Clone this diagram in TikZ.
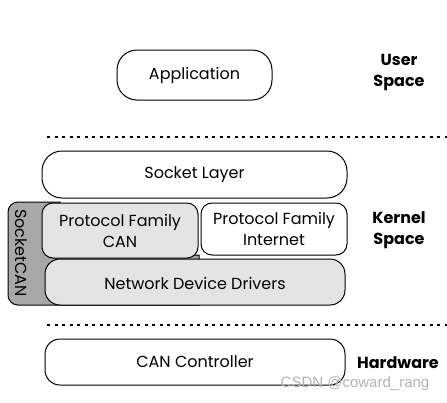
\documentclass[tikz,border=0pt]{standalone}
\usepackage{fontspec}
\setmainfont{Poppins}
\newfontfamily\wmfont{Liberation Sans}
\begin{document}
\begin{tikzpicture}[x=1pt,y=-1pt,
  box/.style={draw=black, line width=1pt, rounded corners=#1},
  lbl/.style={font=\fontsize{16}{21}\selectfont, align=center, inner sep=0pt},
  side/.style={font=\fontsize{16}{21}\selectfont\bfseries, align=center, inner sep=0pt},
  sep/.style={dash pattern=on 3pt off 4.5pt, line width=1.2pt}
]
\useasboundingbox (0,0) rectangle (447,402);
\definecolor{darkg}{HTML}{A8A8A8}
\definecolor{lightg}{HTML}{E4E4E4}
% user space
\draw[box=20pt, fill=white] (117,50) rectangle (272,100);
\node[lbl] (app) at (194.5,75) {Application};
\node[side] (us) at (399,73) {User\\Space};
\coordinate (d1a) at (47,137);
\coordinate (d1b) at (447,137);
\draw[sep] (d1a) -- (d1b);
% kernel
\draw[box=20pt, fill=white] (42,151) rectangle (347,198);
\node[lbl] (sock) at (194.5,175) {Socket Layer};
\draw[draw=black, line width=1pt, fill=darkg]
  (60,202) -- (18,202) to[out=180,in=90] (8,212) -- (8,295) to[out=-90,in=180] (18,305)
  -- (199,305) -- (199,255) -- (60,255) -- cycle;
\node[rotate=-90, font=\fontsize{16}{18}\selectfont, inner sep=0pt] (scan) at (21,253) {SocketCAN};
\draw[box=11pt, fill=lightg] (42,203) rectangle (198,258);
\node[lbl] (pfcan) at (120,230.5) {Protocol Family\\CAN};
\draw[box=11pt, fill=white] (201,203) rectangle (347,255);
\node[lbl] (pfin) at (274,229) {Protocol Family\\Internet};
\draw[box=15pt, fill=lightg] (45,259) rectangle (345,305);
\node[lbl] (ndd) at (195,283) {Network Device Drivers};
\node[side] (ks) at (399,230) {Kernel\\Space};
\coordinate (d2a) at (47,325);
\coordinate (d2b) at (447,325);
\draw[sep] (d2a) -- (d2b);
% hardware
\draw[box=15pt, fill=white] (45,339) rectangle (345,385);
\node[lbl] (canc) at (195,362) {CAN Controller};
\node[side] (hw) at (398,363) {Hardware};
\node[font=\fontsize{15}{16}\wmfont, text=gray!60, inner sep=0pt] (wm) at (355,384) {CSDN @coward\_rang};
\end{tikzpicture}
\end{document}
